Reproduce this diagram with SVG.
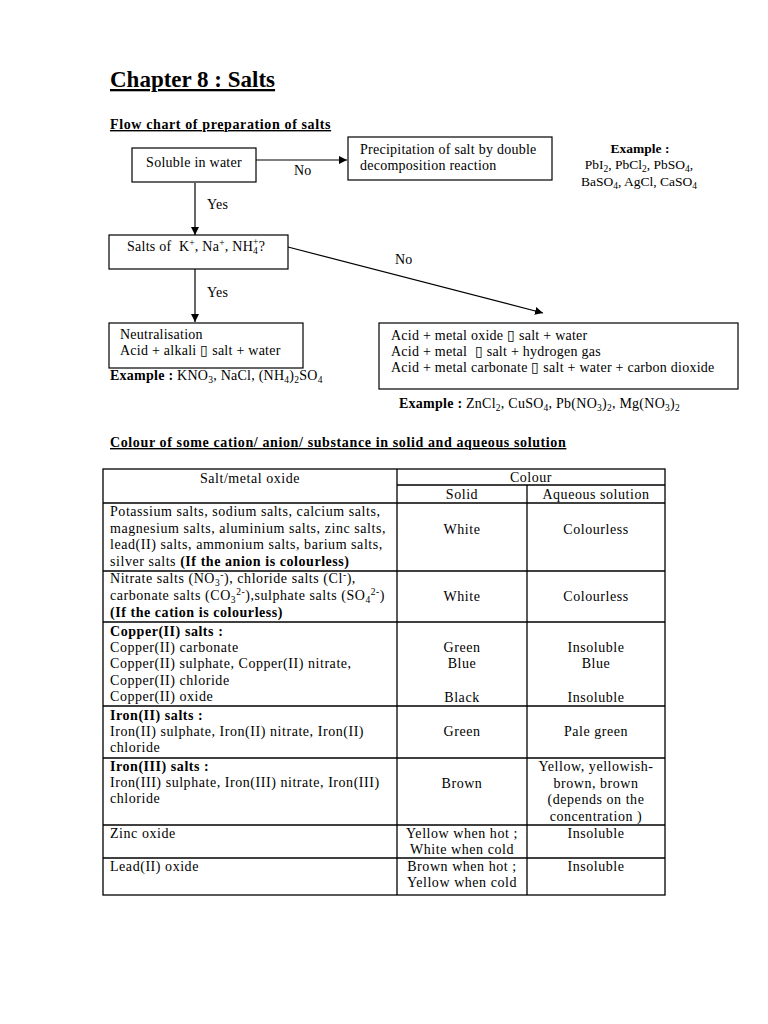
<svg xmlns="http://www.w3.org/2000/svg" width="768" height="1024" viewBox="0 0 768 1024">
<style>
text{font-family:"Liberation Serif","Times New Roman",serif;font-size:14px;letter-spacing:0.25px;fill:#000}
.b{font-weight:bold}
.c{text-anchor:middle}
.u{text-decoration:underline}
.h{letter-spacing:0.62px}
.ex{font-size:13.5px;letter-spacing:0}
#table text{letter-spacing:0.55px}
.sub,.sup{font-size:9.5px}
.box{fill:#fff;stroke:#000;stroke-width:1.2}
.ln{stroke:#000;stroke-width:1.2;fill:none}
.tl{stroke:#000;stroke-width:1.3;fill:none}
</style>
<defs>
<marker id="ah" viewBox="0 0 10 10" refX="10" refY="5" markerWidth="8" markerHeight="8" markerUnits="userSpaceOnUse" orient="auto">
<path d="M0,0 L10,5 L0,10 z" fill="#000"/>
</marker>
</defs>
<rect width="768" height="1024" fill="#fff"/>
<text x="110" y="87" class="b u" style="font-size:23px;letter-spacing:0">Chapter 8 : Salts</text>
<text x="110" y="129" class="b u h">Flow chart of preparation of salts</text>

<g id="connectors">
<line class="ln" x1="256" y1="160" x2="347" y2="160" marker-end="url(#ah)"/>
<text x="294" y="175">No</text>
<line class="ln" x1="195" y1="183" x2="195" y2="235" marker-end="url(#ah)"/>
<text x="207" y="209">Yes</text>
<line class="ln" x1="288" y1="247" x2="543" y2="313" marker-end="url(#ah)"/>
<text x="395" y="264">No</text>
<line class="ln" x1="195" y1="269" x2="195" y2="322" marker-end="url(#ah)"/>
<text x="207" y="297">Yes</text>
</g>

<g id="soluble">
<rect class="box" x="132" y="148" width="124" height="34"/>
<text x="194" y="167" class="c">Soluble in water</text>
</g>
<g id="precipitation">
<rect class="box" x="348" y="137" width="204" height="43"/>
<text x="360" y="154">Precipitation of salt by double</text>
<text x="360" y="170">decomposition reaction</text>
</g>
<g id="example1">
<text x="640" y="153" class="c b ex">Example :</text>
<text x="639" y="169" class="c ex">PbI<tspan class="sub" dy="3">2</tspan><tspan dy="-3">, PbCl</tspan><tspan class="sub" dy="3">2</tspan><tspan dy="-3">, PbSO</tspan><tspan class="sub" dy="3">4</tspan><tspan dy="-3">,</tspan></text>
<text x="639" y="186" class="c ex">BaSO<tspan class="sub" dy="3">4</tspan><tspan dy="-3">, AgCl, CaSO</tspan><tspan class="sub" dy="3">4</tspan></text>
</g>
<g id="salts-question">
<rect class="box" x="109" y="235" width="179" height="34"/>
<text x="127" y="251" xml:space="preserve">Salts of  K<tspan class="sup" dy="-5">+</tspan><tspan dy="5">, Na</tspan><tspan class="sup" dy="-5">+</tspan><tspan dy="5">, NH</tspan><tspan class="sub" dy="3">4</tspan><tspan class="sup" dx="-5" dy="-9">+</tspan><tspan dy="6">?</tspan></text>
</g>
<g id="neutralisation">
<rect class="box" x="109" y="323" width="194" height="45"/>
<text x="120" y="339">Neutralisation</text>
<text x="120" y="355">Acid + alkali ▯ salt + water</text>
</g>
<g id="example2">
<text x="110" y="380"><tspan class="b">Example : </tspan>KNO<tspan class="sub" dy="3">3</tspan><tspan dy="-3">, NaCl, (NH</tspan><tspan class="sub" dy="3">4</tspan><tspan dy="-3">)</tspan><tspan class="sub" dy="3">2</tspan><tspan dy="-3">SO</tspan><tspan class="sub" dy="3">4</tspan></text>
</g>
<g id="acid-reactions">
<rect class="box" x="379" y="323" width="359" height="66"/>
<text x="391" y="340">Acid + metal oxide ▯ salt + water</text>
<text x="391" y="356" xml:space="preserve">Acid + metal  ▯ salt + hydrogen gas</text>
<text x="391" y="372">Acid + metal carbonate ▯ salt + water + carbon dioxide</text>
</g>
<g id="example3">
<text x="399" y="408"><tspan class="b">Example : </tspan>ZnCl<tspan class="sub" dy="3">2</tspan><tspan dy="-3">, CuSO</tspan><tspan class="sub" dy="3">4</tspan><tspan dy="-3">, Pb(NO</tspan><tspan class="sub" dy="3">3</tspan><tspan dy="-3">)</tspan><tspan class="sub" dy="3">2</tspan><tspan dy="-3">, Mg(NO</tspan><tspan class="sub" dy="3">3</tspan><tspan dy="-3">)</tspan><tspan class="sub" dy="3">2</tspan></text>
</g>

<text x="110" y="447" class="b u h">Colour of some cation/ anion/ substance in solid and aqueous solution</text>

<g id="table">
<rect class="tl" x="103" y="469" width="562" height="426"/>
<line class="tl" x1="397" y1="469" x2="397" y2="895"/>
<line class="tl" x1="397" y1="485" x2="665" y2="485"/>
<line class="tl" x1="527" y1="485" x2="527" y2="895"/>
<line class="tl" x1="103" y1="503" x2="665" y2="503"/>
<line class="tl" x1="103" y1="571" x2="665" y2="571"/>
<line class="tl" x1="103" y1="622" x2="665" y2="622"/>
<line class="tl" x1="103" y1="706" x2="665" y2="706"/>
<line class="tl" x1="103" y1="758" x2="665" y2="758"/>
<line class="tl" x1="103" y1="825" x2="665" y2="825"/>
<line class="tl" x1="103" y1="858" x2="665" y2="858"/>

<text x="250" y="483" class="c">Salt/metal oxide</text>
<text x="531" y="482" class="c">Colour</text>
<text x="462" y="499" class="c">Solid</text>
<text x="596" y="499" class="c">Aqueous solution</text>

<text x="110" y="516">Potassium salts, sodium salts, calcium salts,</text>
<text x="110" y="532.5">magnesium salts, aluminium salts, zinc salts,</text>
<text x="110" y="549">lead(II) salts, ammonium salts, barium salts,</text>
<text x="110" y="566">silver salts <tspan class="b">(If the anion is colourless)</tspan></text>
<text x="462" y="534" class="c">White</text>
<text x="596" y="534" class="c">Colourless</text>

<text x="110" y="583">Nitrate salts (NO<tspan class="sub" dy="3">3</tspan><tspan class="sup" dy="-8">-</tspan><tspan dy="5">), chloride salts (Cl</tspan><tspan class="sup" dy="-5">-</tspan><tspan dy="5">),</tspan></text>
<text x="110" y="600">carbonate salts (CO<tspan class="sub" dy="3">3</tspan><tspan class="sup" dy="-8">2-</tspan><tspan dy="5">),sulphate salts (SO</tspan><tspan class="sub" dy="3">4</tspan><tspan class="sup" dy="-8">2-</tspan><tspan dy="5">)</tspan></text>
<text x="110" y="617" class="b">(If the cation is colourless)</text>
<text x="462" y="601" class="c">White</text>
<text x="596" y="601" class="c">Colourless</text>

<text x="110" y="636" class="b">Copper(II) salts :</text>
<text x="110" y="652">Copper(II) carbonate</text>
<text x="110" y="668">Copper(II) sulphate, Copper(II) nitrate,</text>
<text x="110" y="685">Copper(II) chloride</text>
<text x="110" y="701">Copper(II) oxide</text>
<text x="462" y="652" class="c">Green</text>
<text x="462" y="668" class="c">Blue</text>
<text x="462" y="702" class="c">Black</text>
<text x="596" y="652" class="c">Insoluble</text>
<text x="596" y="668" class="c">Blue</text>
<text x="596" y="702" class="c">Insoluble</text>

<text x="110" y="720" class="b">Iron(II) salts :</text>
<text x="110" y="736">Iron(II) sulphate, Iron(II) nitrate, Iron(II)</text>
<text x="110" y="752">chloride</text>
<text x="462" y="736" class="c">Green</text>
<text x="596" y="736" class="c">Pale green</text>

<text x="110" y="771" class="b">Iron(III) salts :</text>
<text x="110" y="787">Iron(III) sulphate, Iron(III) nitrate, Iron(III)</text>
<text x="110" y="803">chloride</text>
<text x="462" y="788" class="c">Brown</text>
<text x="596" y="771" class="c">Yellow, yellowish-</text>
<text x="596" y="788" class="c">brown, brown</text>
<text x="596" y="804" class="c">(depends on the</text>
<text x="596" y="821" class="c">concentration )</text>

<text x="110" y="838">Zinc oxide</text>
<text x="462" y="838" class="c">Yellow when hot ;</text>
<text x="462" y="854" class="c">White when cold</text>
<text x="596" y="838" class="c">Insoluble</text>

<text x="110" y="871">Lead(II) oxide</text>
<text x="462" y="871" class="c">Brown when hot ;</text>
<text x="462" y="887" class="c">Yellow when cold</text>
<text x="596" y="871" class="c">Insoluble</text>
</g>
</svg>
